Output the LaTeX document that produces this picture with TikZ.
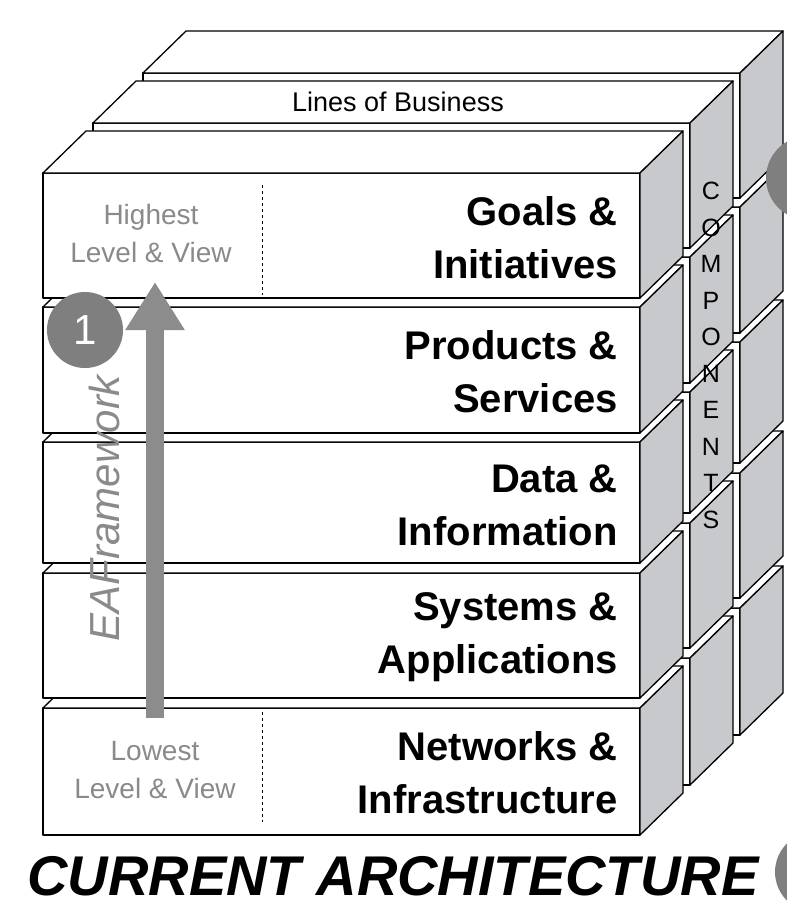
\documentclass[tikz,border=0pt]{standalone}
\usetikzlibrary{arrows.meta}
\usepackage{fontspec}
\setmainfont{Liberation Sans}
\definecolor{sidegray}{HTML}{C8C9CC}
\definecolor{arrgray}{HTML}{8C8C8C}
\definecolor{circgray}{HTML}{7F7F7F}
\definecolor{txtgray}{HTML}{8A8A8A}
\newcommand\slabbox[4]{%
 \filldraw[fill=white,line width=1.3pt,line join=round] (#1,#3) -- ({#2},#3) -- ({#2},#4) -- (#1,#4) -- cycle;
 \filldraw[fill=white,line width=1.3pt,line join=round] (#1,#3) -- ({#1+43},{#3-42}) -- ({#2+43},{#3-42}) -- (#2,#3) -- cycle;
 \filldraw[fill=sidegray,line width=1.3pt,line join=round] (#2,#3) -- ({#2+43},{#3-42}) -- ({#2+43},{#4-42}) -- (#2,#4) -- cycle;}
\newcommand\slablayer[1]{%
 \pgfmathsetmacro\lx{43+50*#1}\pgfmathsetmacro\rx{640+50*#1}\pgfmathsetmacro\dy{50*#1}%
 \slabbox{\lx}{\rx}{708-\dy}{835-\dy}
 \slabbox{\lx}{\rx}{573-\dy}{698-\dy}
 \slabbox{\lx}{\rx}{442-\dy}{563-\dy}
 \slabbox{\lx}{\rx}{307-\dy}{433-\dy}
 \slabbox{\lx}{\rx}{173-\dy}{298-\dy}}
\tikzset{big/.style={font=\fontsize{40}{53}\selectfont\bfseries,align=right,anchor=east,inner sep=0pt},
 lvl/.style={font=\fontsize{28}{38}\selectfont,text=txtgray,align=center,inner sep=0pt},
 comp/.style={font=\fontsize{25}{25}\selectfont,inner sep=0pt}}
\begin{document}
\begin{tikzpicture}[x=1pt,y=-1pt]
\useasboundingbox (0,0) rectangle (787,916);
\slablayer{2}
\slablayer{1}
\slablayer{0}
\fill[circgray] (808,178) circle (42);
\fill[circgray] (815,872) circle (40);
\node[font=\fontsize{27}{27}\selectfont] (lob) at (398,102) {Lines of Business};
\foreach \ch [count=\i from 0] in {C,O,M,P,O,N,E,N,T,S}
  \node[comp] (c\i) at (711,{191+36.5*\i}) {\ch};
\node[big] (g) at (618,238) {Goals \&\\Initiatives};
\node[big] (p) at (618,372) {Products \&\\Services};
\node[big] (d) at (618,505) {Data \&\\Information};
\node[big] (s) at (618,637) {Systems \&\\Applications};
\node[big] (n) at (618,773) {Networks \&\\Infrastructure};
\draw[dashed,line width=0.6pt] (262,185) -- (262,295);
\draw[dashed,line width=0.6pt] (262,712) -- (262,822);
\node[lvl] (hi) at (151,233) {Highest\\Level \& View};
\node[lvl] (lo) at (155,770) {Lowest\\Level \& View};
\coordinate (abot) at (155,718);
\coordinate (atop) at (155,282);
\draw[arrgray,line width=18pt,-{Triangle[length=48pt,width=56pt]}] (abot) -- (atop);
\node[circle,fill=circgray,minimum size=76pt,inner sep=0pt,text=white,font=\fontsize{42}{42}\selectfont] (one) at (85,330) {1};
\node[rotate=90,text=txtgray,font=\fontsize{42}{42}\selectfont\itshape] (ea) at (104,508) {EAFramework};
\node[font=\fontsize{56}{56}\selectfont\bfseries\itshape] (ca) at (393,876) {CURRENT ARCHITECTURE};
\end{tikzpicture}
\end{document}
